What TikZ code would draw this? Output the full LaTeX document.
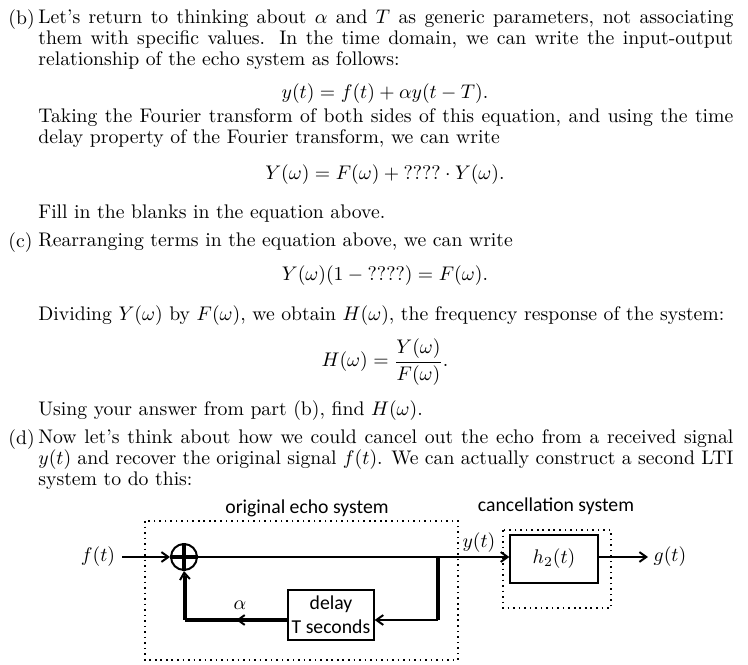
\documentclass[tikz,border=0pt]{standalone}
\usepackage{amsmath}
\usepackage{fontspec}
\newfontfamily\calfnt{Carlito}
\usetikzlibrary{arrows.meta,decorations.markings}
\newdimen\pxu \pxu=0.5076pt
\begin{document}
\begin{tikzpicture}[x=\pxu,y=-\pxu,
  para/.style={anchor=north west,text width=695\pxu,align=justify,inner sep=0pt,font=\fontsize{10}{10.66}\selectfont},
  lbl/.style={anchor=north west,inner sep=0pt},
  eqn/.style={inner sep=0pt},
  sig/.style={line width=1pt},
  thick2/.style={line width=1.6pt},
  arr/.style={-{Straight Barb[length=3.5pt,width=5pt]}},
  dotbox/.style={draw,dotted,line width=0.8pt},
  blk/.style={draw,line width=0.7pt,inner sep=0pt}]
\useasboundingbox (0,0) rectangle (748,665);
\node[lbl] (lb) at (8,9) {(b)};
\node[para] (pb) at (38,9) {Let's return to thinking about $\alpha$ and $T$ as generic parameters, not associating them with specific values. In the time domain, we can write the input-output relationship of the echo system as follows:};
\node[eqn] (e1) at (385,94) {$y(t)=f(t)+\alpha y(t-T).$};
\node[para] (pb2) at (38,108) {Taking the Fourier transform of both sides of this equation, and using the time delay property of the Fourier transform, we can write};
\node[eqn] (e2) at (385,175) {$Y(\omega)=F(\omega)+{????}\cdot Y(\omega).$};
\node[para] (pb3) at (38,204) {Fill in the blanks in the equation above.};
\node[lbl] (lc) at (8,232) {(c)};
\node[para] (pc) at (38,232) {Rearranging terms in the equation above, we can write};
\node[eqn] (e3) at (385,276) {$Y(\omega)(1-{????})=F(\omega).$};
\node[para] (pc2) at (38,305) {Dividing $Y(\omega)$ by $F(\omega)$, we obtain $H(\omega)$, the frequency response of the system:};
\node[eqn] (e4) at (385,362) {$H(\omega)=\dfrac{Y(\omega)}{F(\omega)}.$};
\node[para] (pc3) at (38,400) {Using your answer from part (b), find $H(\omega)$.};
\node[lbl] (ld) at (8,429) {(d)};
\node[para] (pd) at (38,429) {Now let's think about how we could cancel out the echo from a received signal $y(t)$ and recover the original signal $f(t)$. We can actually construct a second LTI system to do this:};
% diagram
\draw[dotbox] (145,521) rectangle (458,660);
\draw[dotbox] (503,530) rectangle (611,608);
\node[font=\calfnt] (t1) at (307,508) {original echo system};
\node[font=\calfnt] (t2) at (556,506) {cancellation system};
\node (ft) at (98,557) {$f(t)$};
\node[draw,circle,line width=1pt,minimum size=26\pxu,inner sep=0pt] (sum) at (184,557) {};
\draw[line width=1.6pt] (sum.north) -- (sum.south) (sum.west) -- (sum.east);
\node[blk,minimum width=88\pxu,minimum height=48\pxu] (h2) at (554,559) {$h_2(t)$};
\node[blk,minimum width=86\pxu,minimum height=50\pxu,align=center,font=\calfnt] (dl) at (331,615) {delay\\T seconds};
\node (gt) at (670,557) {$g(t)$};
\node (yt) at (479,543) {$y(t)$};
\node (al) at (240,605) {$\alpha$};
\coordinate (j) at (438,557);
\coordinate (jb) at (438,620);
\coordinate (lb2) at (185,620);
\draw[sig,arr] (ft.east) -- (sum.west);
\draw[sig] (sum.east) -- (j);
\draw[sig,arr] (j) -- (h2.west |- j);
\draw[sig,arr] (h2.east |- j) -- (648,557) coordinate (ge);
\draw[thick2] (j) -- (jb);
\draw[sig,arr] (jb) -- (dl.east |- jb);
\draw[thick2,postaction={decorate},decoration={markings,mark=at position 0.5 with {\arrow[line width=1pt]{Straight Barb[length=3.5pt,width=5pt]}}}] (dl.west |- lb2) -- (lb2);
\draw[thick2] (lb2) -- (185,576);
\draw[sig,arr] (185,580) -- (sum.south);
\end{tikzpicture}
\end{document}
